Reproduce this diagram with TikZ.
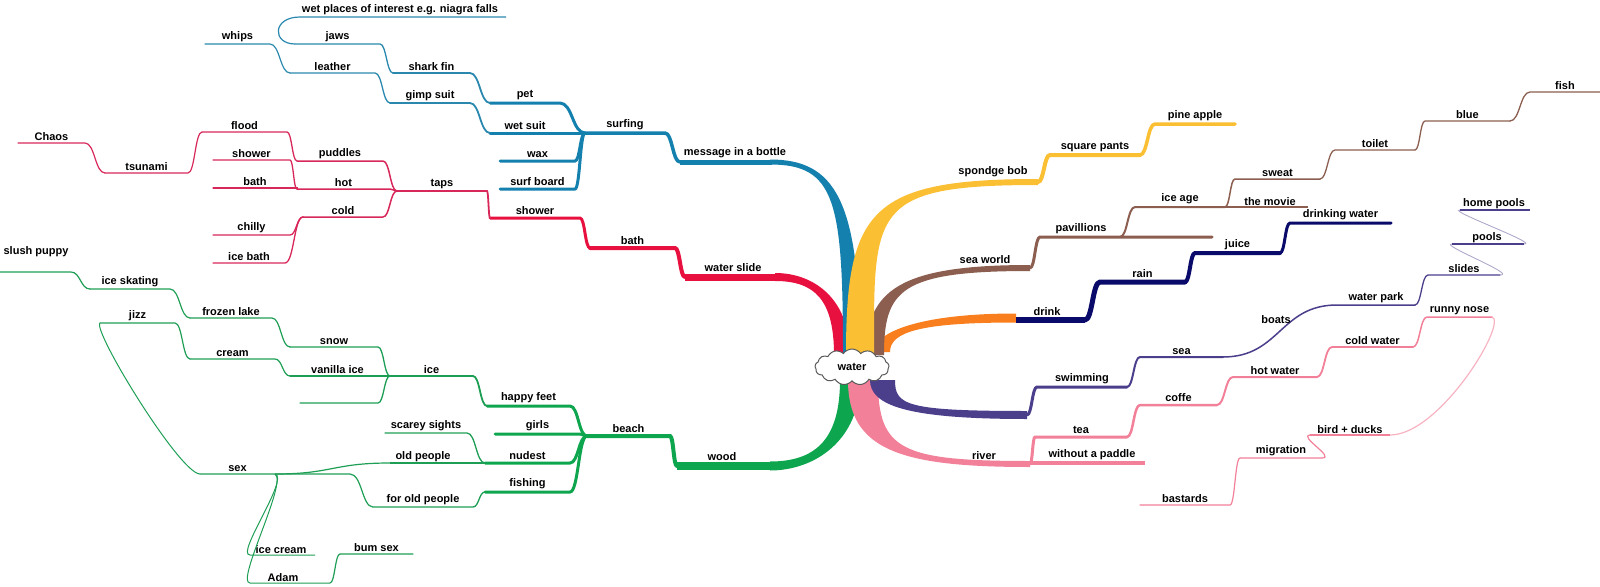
\documentclass[tikz,border=0pt]{standalone}
\usepackage{fontspec}
\setmainfont{Liberation Sans}
\usetikzlibrary{shapes.symbols}
\definecolor{cblue}{HTML}{1480AE}
\definecolor{cred}{HTML}{E8103F}
\definecolor{cgreen}{HTML}{0DA64E}
\definecolor{cyel}{HTML}{FBBF33}
\definecolor{cbrown}{HTML}{8B5E4F}
\definecolor{corange}{HTML}{F97F1E}
\definecolor{cnavy}{HTML}{0A0A6A}
\definecolor{cpurple}{HTML}{4B3F8C}
\definecolor{cpink}{HTML}{F28099}
\definecolor{tblue}{HTML}{2A88AE}
\definecolor{tred}{HTML}{D8285A}
\definecolor{tgreen}{HTML}{1E9E55}
\tikzset{lbl/.style={anchor=south,inner sep=1.5pt,font=\fontsize{11}{12}\selectfont\bfseries,text=black}}
% left-side branch: parent point (px,py) -> child line x1..x2 at y
\newcommand\lb[9]{%
  \draw[#2,line width=#3,line cap=round] (#4,#5) .. controls ({(#4+#7)/2},#5) and ({(#4+#7)/2},#8) .. (#7,#8) -- (#6,#8);
  \node[lbl,yshift={(0.5*#3)*1pt}] (#1) at ({(#6+#7)/2},#8) {#9};}
% right-side branch
\newcommand\rb[9]{%
  \draw[#2,line width=#3,line cap=round] (#4,#5) .. controls ({(#4+#6)/2},#5) and ({(#4+#6)/2},#8) .. (#6,#8) -- (#7,#8);
  \node[lbl,yshift={(0.5*#3)*1pt}] (#1) at ({(#6+#7)/2},#8) {#9};}
% tapered main branch
\newcommand\mbr[9]{%
  \fill[#1] (#2,#4) .. controls (#2,#8) and (#9,#6-#7) .. (#5,#6-#7) -- (#5,#6+#7) .. controls (#9,#6+#7) and (#3,#8) .. (#3,#4) -- cycle;}
\begin{document}
\begin{tikzpicture}[x=1pt,y=-1pt]
\useasboundingbox (0,0) rectangle (1600,586);
% ---------- main branches ----------
\mbr{cred}{850}{834}{355}{775}{277}{4}{300}{815}
\mbr{cblue}{860}{843}{355}{770}{162}{2.5}{200}{835}
\mbr{cgreen}{840}{860}{380}{770}{466}{4.5}{440}{815}
\mbr{cpink}{878}{848}{380}{1030}{464}{3}{450}{900}
\mbr{cpurple}{895}{870}{380}{1027}{415}{4}{405}{905}
\mbr{corange}{874}{890}{352}{1016}{318}{4.5}{332}{920}
\mbr{cbrown}{866}{884}{355}{1030}{268}{3}{290}{900}
\mbr{cyel}{846}{874}{355}{1038}{182}{3}{210}{870}
% main lines with labels
\draw[cblue,line width=5] (680,162) -- (772,162);
\node[lbl,yshift=2.5pt] (mib) at (735,162) {message in a bottle};
\draw[cred,line width=7] (685,277) -- (777,277);
\node[lbl,yshift=3.5pt] (ws) at (733,277) {water slide};
\draw[cgreen,line width=8] (677,466) -- (772,466);
\node[lbl,yshift=4pt] (wood) at (722,466) {wood};
\node[lbl,yshift=3pt] (sb) at (993,182) {spondge bob};
\node[lbl,yshift=3pt] (sw) at (985,268) {sea world};
\node[lbl,yshift=3pt] (river) at (984,464) {river};
% ---------- blue ----------
\lb{surf}{cblue}{3.5}{680}{162}{585}{665}{133}{surfing}
\lb{pet}{cblue}{3}{585}{133}{490}{560}{103}{pet}
\lb{wsuit}{cblue}{3}{585}{133}{490}{560}{133}{wet suit}
\lb{wax}{cblue}{3}{585}{133}{500}{575}{161}{wax}
\lb{sboard}{cblue}{3}{585}{133}{500}{575}{189}{surf board}
\lb{shark}{tblue}{1.8}{490}{103}{393}{470}{73}{shark fin}
\lb{jaws}{tblue}{1.3}{393}{73}{295}{380}{44}{jaws}
\draw[tblue,line width=1.2] (295,44) .. controls (272,44) and (272,17) .. (300,17) -- (506,17);
\node[lbl] (wet) at (400,17) {wet places of interest e.g. niagra falls};
\lb{gimp}{tblue}{1.8}{490}{133}{390}{470}{103}{gimp suit}
\lb{leather}{tblue}{1.3}{390}{103}{290}{375}{73}{leather}
\lb{whips}{tblue}{1.2}{290}{73}{205}{270}{44}{whips}
% ---------- red ----------
\lb{bath}{cred}{4}{685}{277}{590}{675}{248}{bath}
\lb{shower}{cred}{3}{590}{248}{490}{580}{218}{shower}
\lb{taps}{tred}{1.8}{490}{218}{397}{487}{191}{taps}
\lb{puddles}{tred}{1.5}{397}{191}{297}{383}{161}{puddles}
\lb{hot}{tred}{1.5}{397}{191}{297}{390}{189}{hot}
\lb{cold}{tred}{1.5}{397}{191}{303}{383}{217}{cold}
\lb{flood}{tred}{1.3}{297}{161}{202}{287}{132}{flood}
\lb{shower2}{tred}{1.3}{297}{189}{213}{290}{160}{shower}
\lb{bath2}{tred}{1.3}{297}{189}{213}{297}{188}{bath}
\lb{chilly}{tred}{1.3}{303}{217}{213}{290}{235}{chilly}
\lb{icebath}{tred}{1.3}{303}{217}{213}{285}{263}{ice bath}
\lb{tsunami}{tred}{1.2}{202}{132}{105}{188}{173}{tsunami}
\lb{chaos}{tred}{1.2}{105}{173}{18}{85}{143}{Chaos}
% ---------- green ----------
\lb{beach}{cgreen}{4}{677}{466}{587}{670}{436}{beach}
\lb{happy}{cgreen}{3}{587}{436}{487}{570}{406}{happy feet}
\lb{girls}{cgreen}{3}{587}{436}{495}{580}{434}{girls}
\lb{nudest}{cgreen}{3}{587}{436}{485}{570}{463}{nudest}
\lb{fishing}{cgreen}{3}{587}{436}{485}{570}{492}{fishing}
\lb{ice}{tgreen}{1.8}{487}{406}{390}{473}{376}{ice}
\lb{snow}{tgreen}{1.3}{390}{376}{290}{378}{347}{snow}
\lb{vanilla}{tgreen}{1.3}{390}{376}{290}{385}{376}{vanilla ice}
\lb{blank}{tgreen}{1.3}{390}{376}{300}{378}{403}{}
\lb{frozen}{tgreen}{1.2}{290}{347}{190}{272}{318}{frozen lake}
\lb{cream}{tgreen}{1.2}{290}{376}{190}{275}{359}{cream}
\lb{skating}{tgreen}{1.2}{190}{318}{90}{170}{289}{ice skating}
\lb{slush}{tgreen}{1.2}{90}{289}{0}{71}{272}{}
\node[lbl] (slushl) at (36,258) {slush puppy};
\lb{jizz}{tgreen}{1.2}{190}{359}{100}{175}{323}{jizz}
\lb{scarey}{tgreen}{1.3}{485}{463}{385}{467}{433}{scarey sights}
\draw[tgreen,line width=1.3] (485,463) -- (390,463);
\node[lbl] (old) at (423,463) {old people};
\lb{forold}{tgreen}{1.3}{485}{492}{373}{473}{507}{for old people}
\lb{sex}{tgreen}{1.2}{390}{463}{200}{275}{474}{sex}
\draw[tgreen,line width=1.2] (275,474) -- (350,474) .. controls (362,474) and (362,507) .. (373,507);
\draw[tgreen,line width=1] (100,323) .. controls (92,330) and (180,474) .. (200,474);
\draw[tgreen,line width=1] (275,474) .. controls (290,478) and (235,555) .. (250,555) -- (315,555);
\node[lbl] (icecream) at (281,555) {ice cream};
\draw[tgreen,line width=1] (275,474) .. controls (288,482) and (235,583) .. (250,583) -- (330,583);
\node[lbl] (adam) at (283,583) {Adam};
\rb{bumsex}{tgreen}{1.2}{330}{583}{340}{413}{554}{bum sex}
% ---------- yellow ----------
\rb{sqp}{cyel}{4}{1038}{182}{1050}{1140}{155}{square pants}
\rb{pine}{cyel}{3.5}{1140}{155}{1155}{1235}{124}{pine apple}
% ---------- brown ----------
\rb{pav}{cbrown}{3}{1030}{268}{1040}{1212}{237}{}
\node[lbl,yshift=1.5pt] (pavl) at (1081,237) {pavillions};
\rb{iceage}{cbrown}{2}{1120}{237}{1135}{1225}{207}{ice age}
\draw[cbrown,line width=1.5] (1225,207) -- (1308,207);
\node[lbl] (movie) at (1270,207) {the movie};
\rb{sweat}{cbrown}{1.5}{1225}{207}{1235}{1320}{179}{sweat}
\rb{toilet}{cbrown}{1.3}{1320}{179}{1335}{1415}{150}{toilet}
\rb{blue}{cbrown}{1.3}{1415}{150}{1425}{1510}{121}{blue}
\rb{fish}{cbrown}{1.3}{1510}{121}{1530}{1600}{92}{fish}
% ---------- navy ----------
\draw[cnavy,line width=6] (1016,320) -- (1085,320);
\node[lbl,yshift=3pt] (drink) at (1047,320) {drink};
\rb{rain}{cnavy}{5}{1085}{320}{1100}{1185}{282}{rain}
\rb{juice}{cnavy}{4}{1185}{282}{1195}{1280}{253}{juice}
\rb{dw}{cnavy}{3}{1280}{253}{1290}{1391}{223}{drinking water}
% ---------- purple ----------
\rb{swim}{cpurple}{3}{1027}{415}{1037}{1127}{387}{swimming}
\rb{sea}{cpurple}{2}{1127}{387}{1140}{1223}{357}{sea}
\rb{wpark}{cpurple}{1.5}{1223}{357}{1337}{1415}{305}{water park}
\node[lbl] (boats) at (1276,325) {boats};
\rb{slides}{cpurple}{1.3}{1415}{305}{1428}{1500}{275}{slides}
\draw[cpurple!45,line width=0.9] (1500,275) .. controls (1518,275) and (1438,244) .. (1452,244);
\draw[cpurple,line width=1.3] (1452,244) -- (1524,244);
\node[lbl] (pools) at (1487,244) {pools};
\draw[cpurple!45,line width=0.9] (1524,244) .. controls (1540,244) and (1446,210) .. (1460,210);
\draw[cpurple,line width=1.3] (1460,210) -- (1530,210);
\node[lbl] (hpools) at (1494,210) {home pools};
% ---------- pink ----------
\draw[cpink,line width=4] (1030,463) -- (1145,463);
\node[lbl,yshift=2pt] (paddle) at (1092,463) {without a paddle};
\rb{tea}{cpink}{3}{1030}{464}{1035}{1127}{437}{tea}
\rb{coffe}{cpink}{2.5}{1127}{437}{1140}{1217}{405}{coffe}
\rb{hotw}{cpink}{2}{1217}{405}{1233}{1317}{377}{hot water}
\rb{coldw}{cpink}{1.8}{1317}{377}{1332}{1413}{347}{cold water}
\rb{runny}{cpink}{1.5}{1413}{347}{1427}{1492}{317}{runny nose}
\draw[cpink!60,line width=1.2] (1492,317) .. controls (1508,322) and (1440,435) .. (1390,435);
\draw[cpink,line width=1.2] (1390,435) -- (1310,435);
\node[lbl] (bird) at (1350,435) {bird + ducks};
\draw[cpink,line width=1.2] (1310,435) .. controls (1298,436) and (1336,458) .. (1322,458) -- (1240,458);
\node[lbl] (migr) at (1281,458) {migration};
\lb{bast}{cpink}{1.2}{1240}{458}{1140}{1230}{505}{bastards}
% ---------- centre ----------
\node[cloud,cloud puffs=13,cloud puff arc=110,aspect=2.2,draw=black!65,line width=1pt,fill=white,
  minimum width=74pt,minimum height=36pt,inner sep=0pt,font=\fontsize{11}{12}\selectfont\bfseries] (water) at (852,367) {water};
\end{tikzpicture}
\end{document}
